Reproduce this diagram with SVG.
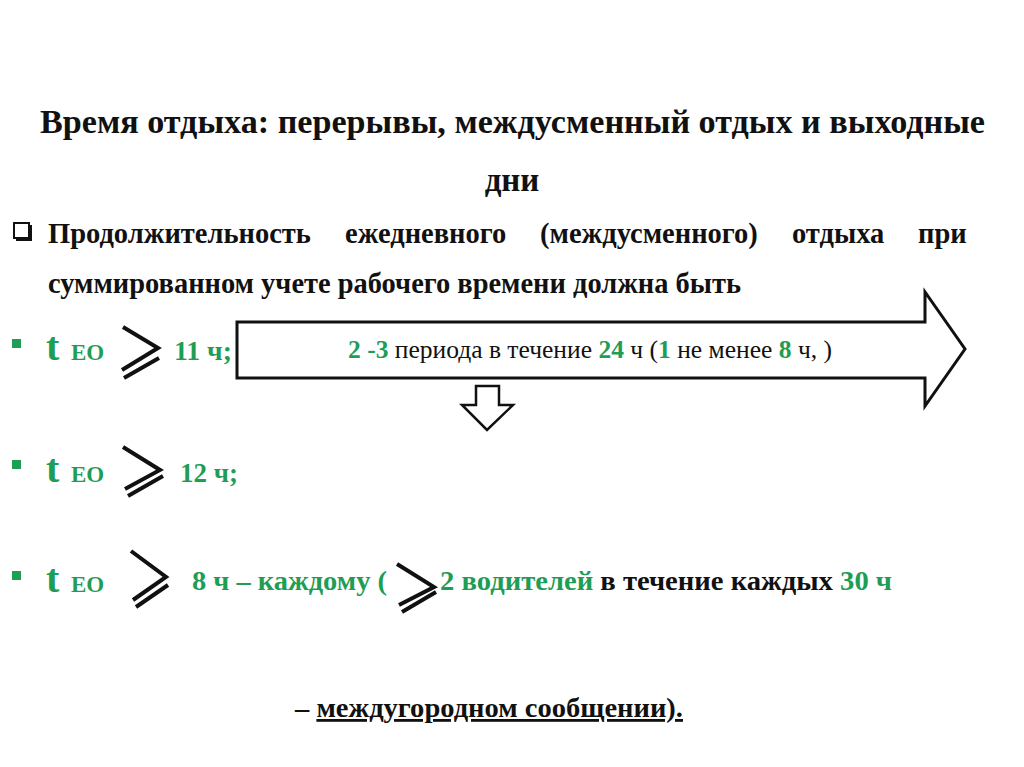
<svg xmlns="http://www.w3.org/2000/svg" width="1024" height="767" viewBox="0 0 1024 767" font-family="'Liberation Serif','Times New Roman','DejaVu Serif',serif">
<style>
text{font-family:'Liberation Serif','Times New Roman','DejaVu Serif',serif}
.b{font-weight:bold;fill:#111}
.n{fill:#111}
.g{fill:#1f9d55;font-weight:bold}
.ge{stroke:#111;stroke-width:4;fill:none;stroke-linecap:butt}
.sq{fill:#1f9d55}
</style>
<rect width="1024" height="767" fill="#fff"/>
<g id="title">
<text class="b" x="40" y="133" font-size="33" textLength="945" lengthAdjust="spacingAndGlyphs">Время отдыха: перерывы, междусменный отдых и выходные</text>
<text class="b" x="512" y="191" font-size="33" text-anchor="middle">дни</text>
</g>
<g id="intro">
<rect x="14" y="223" width="15" height="15" fill="#fff" stroke="#111" stroke-width="2"/>
<path d="M16,240 L31,240 L31,225" stroke="#111" stroke-width="2" fill="none"/>
<text class="b" font-size="28.5" y="243"><tspan x="48">Продолжительность</tspan><tspan x="345">ежедневного</tspan><tspan x="540">(междусменного)</tspan><tspan x="792">отдыха</tspan><tspan x="918">при</tspan></text>
<text class="b" font-size="28.5" x="48" y="293" textLength="693" lengthAdjust="spacingAndGlyphs">суммированном учете рабочего времени должна быть</text>
</g>
<g id="arrow-right">
<path d="M237,322 L925,322 L925,292 L965,349 L925,406 L925,378 L237,378 Z" fill="#fff" stroke="#111" stroke-width="3"/>
<text class="n" font-size="25.5" x="348" y="358" textLength="484" lengthAdjust="spacingAndGlyphs"><tspan class="g">2 -3</tspan> периода в течение <tspan class="g">24</tspan> ч (<tspan class="g">1</tspan> не менее <tspan class="g">8</tspan> ч, )</text>
</g>
<g id="arrow-down">
<path d="M476,386 L499,386 L499,405 L513,405 L487,430 L462,405 L476,405 Z" fill="#fff" stroke="#111" stroke-width="2.5"/>
</g>
<g id="item1">
<rect class="sq" x="12" y="339" width="9" height="9"/>
<text class="b g" font-size="40" x="46" y="360">t</text>
<text class="b g" font-size="23" x="71" y="360">EO</text>
<path class="ge" d="M123,327 L158,348 L122,370 M124,378 L159,358"/>
<text class="b g" font-size="28" x="174" y="360" textLength="58" lengthAdjust="spacingAndGlyphs">11 ч;</text>
</g>
<g id="item2">
<rect class="sq" x="12" y="460" width="9" height="9"/>
<text class="b g" font-size="40" x="46" y="482">t</text>
<text class="b g" font-size="23" x="71" y="482">EO</text>
<path class="ge" d="M123,447 L160,470 L125,489 M128,496 L163,476"/>
<text class="b g" font-size="28" x="180" y="482" textLength="58" lengthAdjust="spacingAndGlyphs">12 ч;</text>
</g>
<g id="item3">
<rect class="sq" x="12" y="571" width="9" height="9"/>
<text class="b g" font-size="40" x="46" y="592">t</text>
<text class="b g" font-size="23" x="71" y="592">EO</text>
<path class="ge" d="M131,551 L166,577 L133,600 M136,607 L168,585"/>
<text class="b g" font-size="28" x="192" y="590" textLength="195" lengthAdjust="spacingAndGlyphs">8 ч – каждому (</text>
<path class="ge" d="M397,564 L434,587 L399,605 M402,612 L436,592"/>
<text class="b" font-size="28" x="440" y="590" textLength="452" lengthAdjust="spacingAndGlyphs"><tspan class="g">2 водителей</tspan> в течение каждых <tspan class="g">30 ч</tspan></text>
<text class="b" font-size="28" x="295" y="717" textLength="388" lengthAdjust="spacingAndGlyphs">– <tspan text-decoration="underline">междугородном сообщении).</tspan></text>
</g>
</svg>
